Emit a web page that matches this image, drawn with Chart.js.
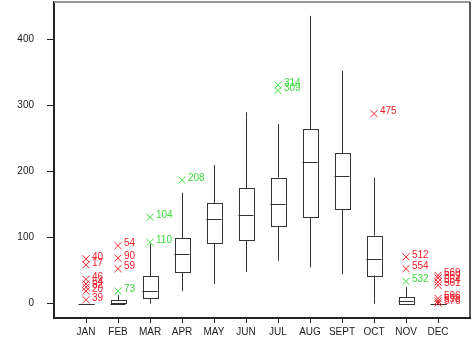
<!DOCTYPE html>
<html>
<head>
  <meta charset="UTF-8">
  <title>Monthly boxplot</title>
  <script src="https://cdn.jsdelivr.net/npm/chart.js"></script>
  <style>
    body {
      margin: 0;
      background: #fff;
    }
    .wrap {
      width: 474px;
      height: 349px;
    }
  </style>
</head>
<body>
  <div class="wrap"><canvas id="grafik"></canvas></div>

  <script>
    const months = ['JAN', 'FEB', 'MAR', 'APR', 'MAY', 'JUN', 'JUL', 'AUG', 'SEPT', 'OCT', 'NOV', 'DEC'];
    const yTicks = [0, 100, 200, 300, 400];

    // box statistics per month
    const whiskerLow  = [0, 0, 0, 19, 30, 48, 65, 55, 45, 0, 0, 0];
    const q1          = [0, 0, 9, 47, 91, 96, 118, 131, 143, 43, 0, 0];
    const median      = [0, 0, 20, 75, 128, 134, 151, 214, 194, 68, 4, 0];
    const q3          = [0, 5, 42, 99, 152, 175, 191, 264, 228, 103, 10, 0];
    const whiskerHigh = [0, 13, 91, 168, 210, 290, 272, 436, 353, 191, 25, 0];

    // outliers (month number, value, label)
    const redMonth = [1, 1, 1, 1, 1, 1, 1, 2, 2, 2, 10, 11, 11, 12, 12, 12, 12, 12, 12, 12];
    const redValue = [68, 59, 37, 30, 25, 19, 6, 88, 69, 53, 288, 71, 53, 43, 39, 33, 28, 8, 4, 1];
    const redLabel = ['40', '17', '46', '54', '52', '20', '39', '54', '90', '59', '475', '512', '554',
                      '569', '559', '554', '561', '596', '598', '576'];

    const greenMonth = [2, 3, 3, 4, 7, 7, 11];
    const greenValue = [19, 131, 93, 187, 331, 323, 34];
    const greenLabel = ['73', '104', '110', '208', '314', '309', '532'];

    const RED = '#f0222c';
    const GREEN = '#3ddc3d';

    function points(mo, val) {
      return mo.map((m, i) => ({ x: m, y: val[i] }));
    }

    // boxes, whiskers and medians drawn on the chart scales
    const boxPlugin = {
      id: 'boxes',
      beforeDatasetsDraw(chart) {
        const ctx = chart.ctx;
        const xs = chart.scales.x;
        const ys = chart.scales.y;
        const half = 0.234;
        ctx.save();
        ctx.strokeStyle = '#333';
        ctx.lineWidth = 1;
        months.forEach((m, i) => {
          const cx = Math.round(xs.getPixelForValue(i + 1)) + 0.5;
          const x0 = xs.getPixelForValue(i + 1 - half);
          const x1 = xs.getPixelForValue(i + 1 + half);
          const yLo = ys.getPixelForValue(whiskerLow[i]);
          const yQ1 = ys.getPixelForValue(q1[i]);
          const yMed = ys.getPixelForValue(median[i]);
          const yQ3 = ys.getPixelForValue(q3[i]);
          const yHi = ys.getPixelForValue(whiskerHigh[i]);
          ctx.beginPath();
          ctx.moveTo(cx, yHi); ctx.lineTo(cx, yQ3);
          ctx.moveTo(cx, yQ1); ctx.lineTo(cx, yLo);
          ctx.stroke();
          ctx.fillStyle = '#fff';
          ctx.fillRect(x0, yQ3, x1 - x0, yQ1 - yQ3);
          ctx.strokeRect(Math.round(x0) + 0.5, Math.round(yQ3) + 0.5, Math.round(x1 - x0), Math.round(yQ1 - yQ3));
          ctx.beginPath();
          ctx.moveTo(x0, Math.round(yMed) + 0.5);
          ctx.lineTo(x1, Math.round(yMed) + 0.5);
          ctx.stroke();
        });
        ctx.restore();
      },
      afterDatasetsDraw(chart) {
        // outlier labels
        const ctx = chart.ctx;
        ctx.save();
        ctx.font = '10px "Liberation Sans", Arial, sans-serif';
        ctx.textBaseline = 'middle';
        ctx.textAlign = 'left';
        chart.data.datasets.forEach((ds, di) => {
          const meta = chart.getDatasetMeta(di);
          ctx.fillStyle = ds.borderColor;
          meta.data.forEach((pt, i) => {
            ctx.fillText(ds.labels[i], pt.x + 6, pt.y - 2);
          });
        });
        ctx.restore();
      },
      afterDraw(chart) {
        const ctx = chart.ctx;
        const a = chart.chartArea;
        ctx.save();
        ctx.strokeStyle = '#999';
        ctx.lineWidth = 2;
        ctx.beginPath();
        ctx.moveTo(a.left, a.top);
        ctx.lineTo(a.right, a.top);
        ctx.stroke();
        ctx.strokeStyle = '#222';
        ctx.lineWidth = 1.5;
        ctx.beginPath();
        ctx.moveTo(a.right, a.top);
        ctx.lineTo(a.right, a.bottom);
        ctx.stroke();
        ctx.restore();
      }
    };

    const ctx = document.getElementById('grafik').getContext('2d');
    const chart = new Chart(ctx, {
      type: 'scatter',
      data: {
        datasets: [
          {
            data: points(redMonth, redValue),
            labels: redLabel,
            borderColor: RED,
            backgroundColor: RED,
            pointStyle: 'crossRot',
            pointRadius: 5,
            borderWidth: 1
          },
          {
            data: points(greenMonth, greenValue),
            labels: greenLabel,
            borderColor: GREEN,
            backgroundColor: GREEN,
            pointStyle: 'crossRot',
            pointRadius: 5,
            borderWidth: 1
          }
        ]
      },
      options: {
        responsive: true,
        maintainAspectRatio: false,
        animation: false,
        devicePixelRatio: 1,
        layout: { autoPadding: false, padding: { top: 2, right: 4, left: 0, bottom: 0 } },
        plugins: {
          legend: { display: false },
          tooltip: { enabled: false }
        },
        scales: {
          x: {
            type: 'linear',
            min: 0,
            max: 13,
            afterBuildTicks: (s) => { s.ticks = months.map((m, i) => ({ value: i + 1 })); },
            afterFit: (s) => { s.height = 31; s.paddingLeft = 0; s.paddingRight = 0; },
            ticks: {
              autoSkip: false,
              maxRotation: 0,
              padding: 3,
              color: '#222',
              font: { family: '"Liberation Sans", Arial, sans-serif', size: 10 },
              callback: (v) => months[v - 1]
            },
            grid: { drawOnChartArea: false, tickLength: 5, color: '#222' },
            border: { color: '#222', width: 2 }
          },
          y: {
            type: 'linear',
            min: -21.6,
            max: 457,
            afterBuildTicks: (s) => { s.ticks = yTicks.map(v => ({ value: v })); },
            afterFit: (s) => { s.width = 54; s.paddingTop = 0; s.paddingBottom = 0; },
            ticks: {
              padding: 13,
              color: '#222',
              font: { family: '"Liberation Sans", Arial, sans-serif', size: 10 }
            },
            grid: { drawOnChartArea: false, tickLength: 7, color: '#222' },
            border: { color: '#222', width: 2 }
          }
        }
      },
      plugins: [boxPlugin]
    });
  </script>
</body>
</html>
